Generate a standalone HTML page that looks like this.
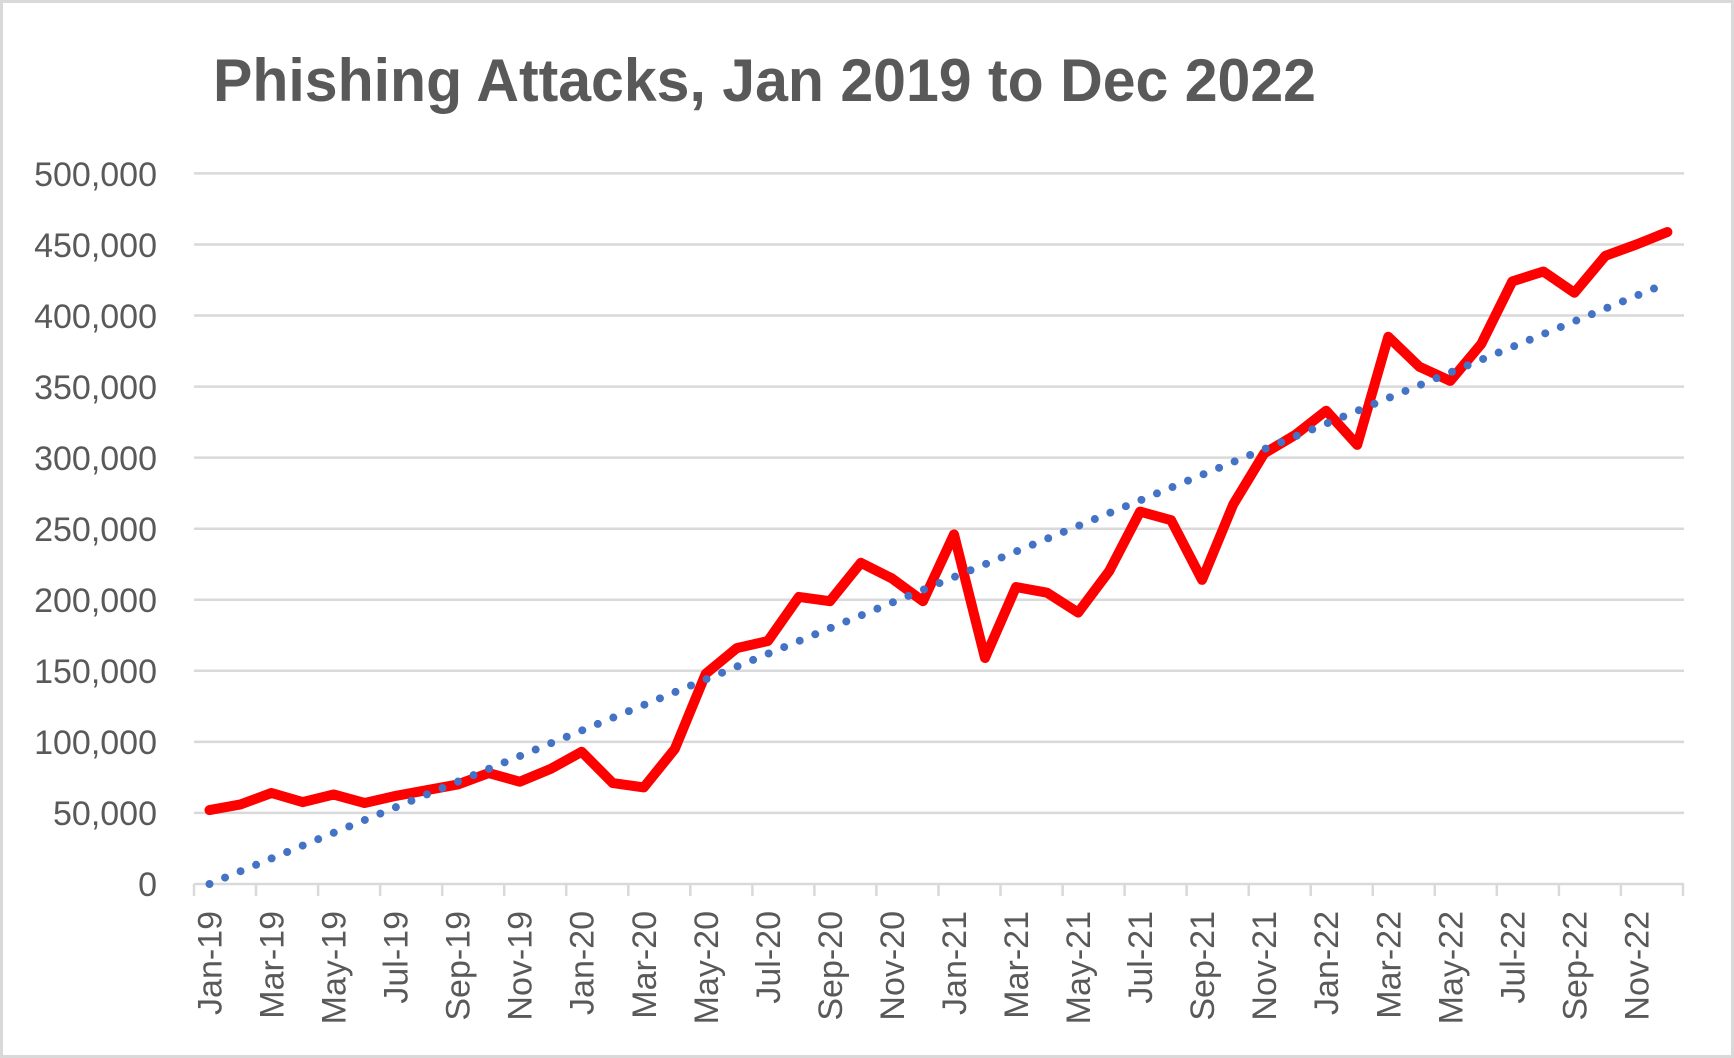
<!DOCTYPE html>
<html><head><meta charset="utf-8"><style>
html,body{margin:0;padding:0;background:#fff;}
svg{display:block;}
</style></head><body>
<svg width="1734" height="1058" viewBox="0 0 1734 1058" xmlns="http://www.w3.org/2000/svg">
<rect x="1.5" y="1.5" width="1731" height="1055" fill="#fff" stroke="#d9d9d9" stroke-width="3"/>
<text x="213" y="101" font-family="Liberation Sans, sans-serif" font-weight="bold" font-size="60" fill="#595959" textLength="1103" lengthAdjust="spacingAndGlyphs">Phishing Attacks, Jan 2019 to Dec 2022</text>
<g stroke="#d9d9d9" stroke-width="2.5">
<line x1="194" x2="1684" y1="812.9" y2="812.9"/>
<line x1="194" x2="1684" y1="741.9" y2="741.9"/>
<line x1="194" x2="1684" y1="670.8" y2="670.8"/>
<line x1="194" x2="1684" y1="599.8" y2="599.8"/>
<line x1="194" x2="1684" y1="528.7" y2="528.7"/>
<line x1="194" x2="1684" y1="457.6" y2="457.6"/>
<line x1="194" x2="1684" y1="386.6" y2="386.6"/>
<line x1="194" x2="1684" y1="315.5" y2="315.5"/>
<line x1="194" x2="1684" y1="244.5" y2="244.5"/>
<line x1="194" x2="1684" y1="173.4" y2="173.4"/>
<line x1="194" x2="1684" y1="884" y2="884"/>
<line x1="194.0" x2="194.0" y1="884" y2="896"/>
<line x1="256.0" x2="256.0" y1="884" y2="896"/>
<line x1="318.1" x2="318.1" y1="884" y2="896"/>
<line x1="380.1" x2="380.1" y1="884" y2="896"/>
<line x1="442.2" x2="442.2" y1="884" y2="896"/>
<line x1="504.2" x2="504.2" y1="884" y2="896"/>
<line x1="566.2" x2="566.2" y1="884" y2="896"/>
<line x1="628.3" x2="628.3" y1="884" y2="896"/>
<line x1="690.3" x2="690.3" y1="884" y2="896"/>
<line x1="752.4" x2="752.4" y1="884" y2="896"/>
<line x1="814.4" x2="814.4" y1="884" y2="896"/>
<line x1="876.4" x2="876.4" y1="884" y2="896"/>
<line x1="938.5" x2="938.5" y1="884" y2="896"/>
<line x1="1000.5" x2="1000.5" y1="884" y2="896"/>
<line x1="1062.6" x2="1062.6" y1="884" y2="896"/>
<line x1="1124.6" x2="1124.6" y1="884" y2="896"/>
<line x1="1186.6" x2="1186.6" y1="884" y2="896"/>
<line x1="1248.7" x2="1248.7" y1="884" y2="896"/>
<line x1="1310.7" x2="1310.7" y1="884" y2="896"/>
<line x1="1372.8" x2="1372.8" y1="884" y2="896"/>
<line x1="1434.8" x2="1434.8" y1="884" y2="896"/>
<line x1="1496.8" x2="1496.8" y1="884" y2="896"/>
<line x1="1558.9" x2="1558.9" y1="884" y2="896"/>
<line x1="1620.9" x2="1620.9" y1="884" y2="896"/>
<line x1="1683.0" x2="1683.0" y1="884" y2="896"/>
</g>
<g font-family="Liberation Sans, sans-serif" font-size="34" fill="#595959" text-anchor="end">
<text x="157" y="896">0</text>
<text x="157" y="825">50,000</text>
<text x="157" y="754">100,000</text>
<text x="157" y="683">150,000</text>
<text x="157" y="612">200,000</text>
<text x="157" y="541">250,000</text>
<text x="157" y="470">300,000</text>
<text x="157" y="399">350,000</text>
<text x="157" y="328">400,000</text>
<text x="157" y="257">450,000</text>
<text x="157" y="186">500,000</text>
</g>
<g font-family="Liberation Sans, sans-serif" font-size="34" fill="#595959" text-anchor="end">
<text transform="translate(221.5,911) rotate(-90)">Jan-19</text>
<text transform="translate(283.5,911) rotate(-90)">Mar-19</text>
<text transform="translate(345.6,911) rotate(-90)">May-19</text>
<text transform="translate(407.6,911) rotate(-90)">Jul-19</text>
<text transform="translate(469.7,911) rotate(-90)">Sep-19</text>
<text transform="translate(531.7,911) rotate(-90)">Nov-19</text>
<text transform="translate(593.7,911) rotate(-90)">Jan-20</text>
<text transform="translate(655.8,911) rotate(-90)">Mar-20</text>
<text transform="translate(717.8,911) rotate(-90)">May-20</text>
<text transform="translate(779.9,911) rotate(-90)">Jul-20</text>
<text transform="translate(841.9,911) rotate(-90)">Sep-20</text>
<text transform="translate(903.9,911) rotate(-90)">Nov-20</text>
<text transform="translate(966.0,911) rotate(-90)">Jan-21</text>
<text transform="translate(1028.0,911) rotate(-90)">Mar-21</text>
<text transform="translate(1090.1,911) rotate(-90)">May-21</text>
<text transform="translate(1152.1,911) rotate(-90)">Jul-21</text>
<text transform="translate(1214.1,911) rotate(-90)">Sep-21</text>
<text transform="translate(1276.2,911) rotate(-90)">Nov-21</text>
<text transform="translate(1338.2,911) rotate(-90)">Jan-22</text>
<text transform="translate(1400.3,911) rotate(-90)">Mar-22</text>
<text transform="translate(1462.3,911) rotate(-90)">May-22</text>
<text transform="translate(1524.3,911) rotate(-90)">Jul-22</text>
<text transform="translate(1586.4,911) rotate(-90)">Sep-22</text>
<text transform="translate(1648.4,911) rotate(-90)">Nov-22</text>
</g>
<polyline fill="none" stroke="#ff0000" stroke-width="10" stroke-linejoin="round" stroke-linecap="round" points="209.5,810.1 240.5,804.4 271.5,793.0 302.6,802.1 333.6,794.5 364.6,803.0 395.6,795.9 426.6,790.2 457.7,784.5 488.7,773.1 519.7,781.7 550.7,768.9 581.7,751.8 612.8,783.1 643.8,787.4 674.8,749.0 705.8,673.7 736.8,648.1 767.9,641.0 798.9,596.9 829.9,601.2 860.9,562.8 891.9,578.4 923.0,601.2 954.0,534.4 985.0,658.0 1016.0,587.0 1047.0,592.7 1078.1,612.6 1109.1,571.3 1140.1,511.6 1171.1,520.2 1202.1,579.9 1233.2,504.5 1264.2,453.4 1295.2,434.9 1326.2,410.7 1357.2,444.9 1388.3,336.8 1419.3,366.7 1450.3,380.9 1481.3,343.9 1512.3,281.4 1543.4,271.5 1574.4,292.8 1605.4,255.8 1636.4,244.5 1667.4,232"/>
<line x1="209.5" y1="884" x2="1667.4" y2="283" stroke="#4472c4" stroke-width="8" stroke-linecap="round" stroke-dasharray="0 16.8"/>
</svg>
</body></html>
